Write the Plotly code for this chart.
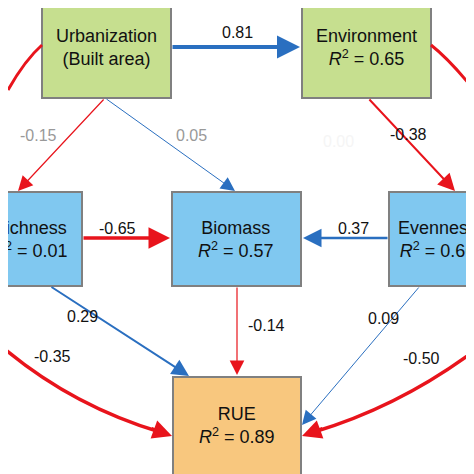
import plotly.graph_objects as go

RED = "#e8141c"
BLUE = "#2a6fc0"
GRAY = "#999999"

node_names = ["Urbanization", "Environment", "Richness", "Biomass", "Evenness", "RUE"]
node_labels = ["Urbanization<br>(Built area)", "Environment<br><i>R</i><sup>2</sup> = 0.65",
               "Richness<br><i>R</i><sup>2</sup> = 0.01", "Biomass<br><i>R</i><sup>2</sup> = 0.57",
               "Evenness<br><i>R</i><sup>2</sup> = 0.66", "RUE<br><i>R</i><sup>2</sup> = 0.89"]
node_fill = ["#c6df8f", "#c6df8f", "#80c8f0", "#80c8f0", "#80c8f0", "#f8c77e"]
node_box = [(42, -5, 171, 98), (302, -5, 431, 98), (-60, 192, 82, 286),
            (172, 192, 301, 286), (389, 192, 520, 286), (173, 377, 301, 490)]
node_text_x = [106, 366, 30, 236, 437, 237]
node_text_y = [47, 47, 239, 239, 239, 425]

path_coef = ["0.81", "-0.15", "0.05", "-0.38", "-0.65", "0.37", "-0.14", "0.29", "0.09"]
path_xy = [((171, 47), (300, 47)), ((105, 98), (18, 191)), ((105, 98), (235, 191)),
           ((368, 98), (455, 191)), ((82, 238), (170, 238)), ((389, 238), (303, 238)),
           ((237, 286), (237, 375)), ((50, 286), (189, 376)), ((420, 286), (302, 425))]
path_color = [BLUE, RED, BLUE, RED, RED, BLUE, RED, BLUE, BLUE]
path_width = [4, 1.2, 1, 2, 3.5, 2.5, 1.2, 2, 1]
label_xy = [(237, 32), (38, 135), (191, 135), (408, 134), (117, 228), (353, 228),
            (266, 325), (82, 316), (383, 318)]
label_color = ["#111", GRAY, GRAY, "#111", "#111", "#111", "#111", "#111", "#111"]

shapes, anns = [], []
for (x0, y0, x1, y1), f in zip(node_box, node_fill):
    shapes.append(dict(type="rect", x0=x0, y0=y0, x1=x1, y1=y1, fillcolor=f,
                       line=dict(color="#808080", width=2), layer="below"))
for lab, tx, ty in zip(node_labels, node_text_x, node_text_y):
    anns.append(dict(x=tx, y=ty, text=lab, showarrow=False, font=dict(size=18, color="#111")))

for (s, e), c, w in zip(path_xy, path_color, path_width):
    anns.append(dict(x=e[0], y=e[1], ax=s[0], ay=s[1], xref="x", yref="y", axref="x", ayref="y",
                     text="", showarrow=True, arrowhead=2, arrowsize=max(0.9, 2.2 / w + 0.6),
                     arrowwidth=w, arrowcolor=c))
for t, (lx, ly), lc in zip(path_coef, label_xy, label_color):
    anns.append(dict(x=lx, y=ly, text=t, showarrow=False, font=dict(size=16, color=lc)))

curve_coef = ["-0.35", "-0.50"]
curve_label = [(52, 356), (421, 358)]
shapes.append(dict(type="path", path="M 0,345 Q 70,405 160,432", line=dict(color=RED, width=3.5)))
shapes.append(dict(type="path", path="M 482,345 Q 404,405 314,432", line=dict(color=RED, width=3.5)))
anns.append(dict(x=172, y=436, ax=150, ay=428, xref="x", yref="y", axref="x", ayref="y", text="",
                 showarrow=True, arrowhead=2, arrowsize=1.1, arrowwidth=3.5, arrowcolor=RED))
anns.append(dict(x=302, y=436, ax=324, ay=428, xref="x", yref="y", axref="x", ayref="y", text="",
                 showarrow=True, arrowhead=2, arrowsize=1.1, arrowwidth=3.5, arrowcolor=RED))
for t, (lx, ly) in zip(curve_coef, curve_label):
    anns.append(dict(x=lx, y=ly, text=t, showarrow=False, font=dict(size=16, color="#111")))
shapes.append(dict(type="path", path="M 42,45 Q 25,60 8,90", line=dict(color=RED, width=3)))
shapes.append(dict(type="path", path="M 431,45 Q 450,60 474,90", line=dict(color=RED, width=3)))
anns.append(dict(x=338, y=141, text="0.00", showarrow=False, font=dict(size=16, color="#f5f5f5")))

fig = go.Figure()
fig.update_layout(width=474, height=474, margin=dict(l=0, r=0, t=0, b=0),
                  plot_bgcolor="white", paper_bgcolor="white", showlegend=False,
                  shapes=shapes, annotations=anns,
                  font=dict(family="Liberation Sans, Arial, sans-serif"),
                  xaxis=dict(range=[8, 482], visible=False, fixedrange=True),
                  yaxis=dict(range=[482, 8], visible=False, fixedrange=True))
fig.write_html("out.html")
